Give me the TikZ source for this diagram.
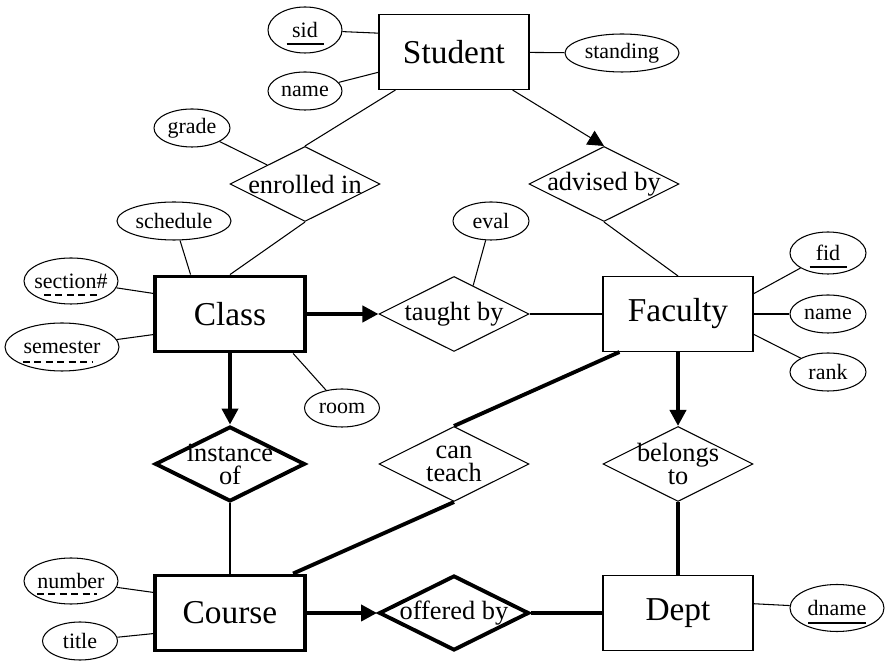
\documentclass[tikz,border=0pt]{standalone}
\usepackage{fontspec}
\setmainfont{Liberation Serif}
\usetikzlibrary{shapes.geometric,arrows.meta}

\tikzset{
  ent/.style={draw, rectangle, minimum width=3cm, minimum height=1.5cm, line width=0.6pt, font=\fontsize{19}{20}\selectfont},
  weakent/.style={ent, line width=2.2pt},
  rel/.style={draw, diamond, aspect=2, minimum width=3cm, minimum height=1.5cm, inner sep=-6pt, line width=0.6pt, align=center, font=\fontsize{15}{13}\selectfont},
  weakrel/.style={rel, line width=2.2pt},
  attr/.style={draw, ellipse, inner xsep=-3pt, inner ysep=0pt, line width=0.6pt, font=\fontsize{12.5}{13}\selectfont},
  link/.style={line width=0.6pt},
  boldlink/.style={line width=2.2pt},
  head/.style={-{Triangle[length=0.32cm,width=0.32cm]}},
  keyline/.style={line width=0.6pt},
  partkey/.style={line width=0.6pt, dash pattern=on 4pt off 2.5pt}
}

\begin{document}
\begin{tikzpicture}

\useasboundingbox (0,0) rectangle (17.78,-13.32);

\node[ent] (stud) at (9.08,-1.04) {Student};
\node[weakent] (class) at (4.60,-6.28) {Class};
\node[ent] (fac) at (13.56,-6.28) {Faculty};
\node[weakent] (course) at (4.60,-12.26) {Course};
\node[ent] (dept) at (13.56,-12.26) {Dept};

\node[rel] (enr) at (6.10,-3.68) {enrolled in};
\node[rel] (adv) at (12.08,-3.68) {advised by};
\node[rel] (taught) at (9.08,-6.28) {taught by};
\node[weakrel] (inst) at (4.60,-9.28) {instance\\of};
\node[rel] (can) at (9.08,-9.28) {can\\teach};
\node[rel] (bel) at (13.56,-9.28) {belongs\\to};
\node[weakrel] (off) at (9.08,-12.26) {offered by};

\node[attr, minimum width=1.48cm, minimum height=0.92cm] (sid) at (6.10,-0.60) {sid};
\node[attr, minimum width=1.48cm, minimum height=0.76cm] (sname) at (6.10,-1.82) {name};
\node[attr, minimum width=2.28cm, minimum height=0.76cm] (stand) at (12.44,-1.06) {standing};
\node[attr, minimum width=1.52cm, minimum height=0.76cm] (grade) at (3.84,-2.56) {grade};
\node[attr, minimum width=2.28cm, minimum height=0.76cm] (sched) at (3.48,-4.42) {schedule};
\node[attr, minimum width=1.52cm, minimum height=0.76cm] (eval) at (9.82,-4.42) {eval};
\node[attr, minimum width=1.88cm, minimum height=0.92cm] (sec) at (1.42,-5.62) {section\#};
\node[attr, minimum width=2.28cm, minimum height=0.96cm] (sem) at (1.24,-6.94) {semester};
\node[attr, minimum width=1.50cm, minimum height=0.76cm] (room) at (6.84,-8.16) {room};
\node[attr, minimum width=1.52cm, minimum height=0.84cm] (fid) at (16.56,-5.06) {fid};
\node[attr, minimum width=1.52cm, minimum height=0.76cm] (fname) at (16.56,-6.28) {name};
\node[attr, minimum width=1.52cm, minimum height=0.76cm] (rank) at (16.56,-7.44) {rank};
\node[attr, minimum width=1.88cm, minimum height=0.92cm] (num) at (1.42,-11.62) {number};
\node[attr, minimum width=1.50cm, minimum height=0.76cm] (title) at (1.60,-12.82) {title};
\node[attr, minimum width=1.88cm, minimum height=0.94cm] (dname) at (16.74,-12.16) {dname};

\draw[keyline] ([shift={(-0.37,-0.28)}]sid.center) -- ([shift={(0.37,-0.28)}]sid.center);
\draw[keyline] ([shift={(-0.37,-0.28)}]fid.center) -- ([shift={(0.37,-0.28)}]fid.center);
\draw[keyline] ([shift={(-0.58,-0.30)}]dname.center) -- ([shift={(0.58,-0.30)}]dname.center);
\draw[partkey] ([shift={(-0.54,-0.28)}]sec.center) -- ([shift={(0.54,-0.28)}]sec.center);
\draw[partkey] ([shift={(-0.78,-0.30)}]sem.center) -- ([shift={(0.62,-0.30)}]sem.center);
\draw[partkey] ([shift={(-0.68,-0.26)}]num.center) -- ([shift={(0.52,-0.26)}]num.center);

\draw[link] (sid) -- (stud.166);
\draw[link] (sname) -- (stud.195);
\draw[link] (stud) -- (stand);
\draw[link] (stud.213) -- (enr.north);
\draw[link, head] (stud.327) -- (adv.north);
\draw[link] (grade) -- (enr.north west);
\draw[link] (sched) -- (class.135);
\draw[link] (enr.south) -- (class.north);
\draw[link] (sec) -- (class.165);
\draw[link] (sem) -- (class.195);
\draw[link] (room) -- (class.328);
\draw[link] (eval) -- (taught.56);
\draw[link] (taught) -- (fac);
\draw[link] (adv.south) -- (fac.north);
\draw[link] (fac.15) -- (fid);
\draw[link] (fac) -- (fname);
\draw[link] (fac.-15) -- (rank);
\draw[link] (inst) -- (course);
\draw[link] (num) -- (course.165);
\draw[link] (title) -- (course.195);
\draw[link] (dept.7) -- (dname);

\draw[boldlink, head] (class) -- (taught);
\draw[boldlink, head] (class) -- (inst);
\draw[boldlink, head] (fac) -- (bel);
\draw[boldlink, head] (course) -- (off);
\draw[boldlink] (fac.213) -- (can.north);
\draw[boldlink] (can.south) -- (course.32);
\draw[boldlink] (off) -- (dept);
\draw[boldlink] (bel) -- (dept);
\end{tikzpicture}
\end{document}
